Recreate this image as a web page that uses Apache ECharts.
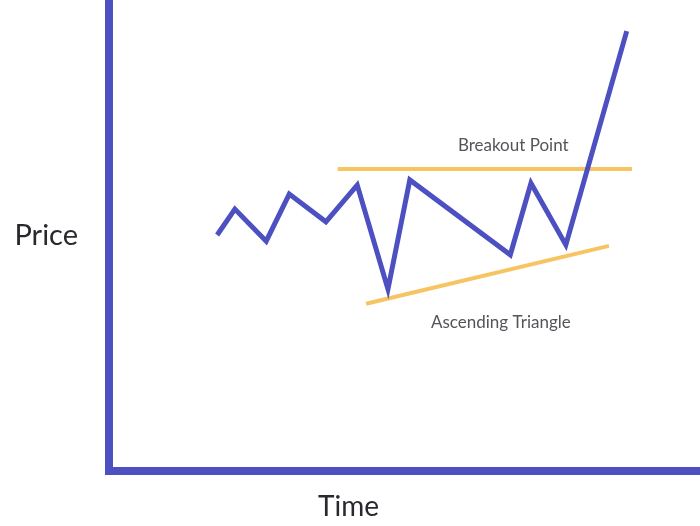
<!DOCTYPE html>
<html>
<head>
<meta charset="utf-8">
<script src="https://cdn.jsdelivr.net/npm/echarts@6/dist/echarts.min.js"></script>
<style>
  html, body { margin: 0; padding: 0; background: #fff; }
  #chart { width: 700px; height: 526px; }
</style>
</head>
<body>
<div id="chart"></div>
<script>
// price path (time, price) on a 0-100 scale
var priceTime = [18.3, 21.3, 26.6, 30.5, 36.7, 42.0, 47.2, 50.9, 67.9, 71.4, 77.3, 87.6];
var priceValue = [50.1, 55.6, 48.8, 58.8, 52.9, 60.7, 38.6, 61.8, 45.9, 61.1, 48.0, 93.4];

// resistance (breakout level) and rising support
var resistanceTime = [38.7, 88.5];
var resistanceValue = [64.1, 64.1];
var supportTime = [43.5, 84.6];
var supportValue = [35.5, 47.8];

// annotations
var noteText = ['Breakout Point', 'Ascending Triangle'];
var noteTime = [68.4, 66.3];
var noteValue = [69.0, 31.6];

var blue = '#4c50c1';
var orange = '#f7c462';
var textColor = '#28282f';

function pairs(xs, ys) {
  return xs.map(function (x, i) { return [x, ys[i]]; });
}

var chart = echarts.init(document.getElementById('chart'));
chart.setOption({
  animation: false,
  grid: {
    left: 109,
    right: 0,
    top: 0,
    bottom: 55,
    outerBoundsMode: 'none'
  },
  xAxis: {
    type: 'value',
    min: 0,
    max: 100,
    name: 'Time',
    nameLocation: 'middle',
    nameGap: 22,
    nameTextStyle: {
      fontFamily: 'Lato',
      fontSize: 28,
      color: textColor,
      padding: [0, 112, 0, 0]
    },
    axisLine: { show: true, lineStyle: { color: blue, width: 8, cap: 'square' } },
    axisTick: { show: false },
    axisLabel: { show: false },
    splitLine: { show: false }
  },
  yAxis: {
    type: 'value',
    min: 0,
    max: 100,
    name: 'Price',
    nameLocation: 'middle',
    nameRotate: 0,
    nameGap: 31,
    nameTextStyle: {
      fontFamily: 'Lato',
      fontSize: 29,
      color: textColor,
      padding: [4, 0, 0, 0]
    },
    axisLine: { show: true, lineStyle: { color: blue, width: 8, cap: 'square' } },
    axisTick: { show: false },
    axisLabel: { show: false },
    splitLine: { show: false }
  },
  series: [
    {
      type: 'line',
      data: pairs(resistanceTime, resistanceValue),
      symbol: 'none',
      z: 2,
      lineStyle: { color: orange, width: 4 }
    },
    {
      type: 'line',
      data: pairs(supportTime, supportValue),
      symbol: 'none',
      z: 2,
      lineStyle: { color: orange, width: 4 }
    },
    {
      type: 'line',
      data: pairs(priceTime, priceValue),
      symbol: 'none',
      z: 3,
      lineStyle: { color: blue, width: 5, join: 'miter' }
    },
    {
      type: 'scatter',
      symbolSize: 0,
      data: noteTime.map(function (t, i) { return [t, noteValue[i], noteText[i]]; }),
      label: {
        show: true,
        position: 'inside',
        formatter: function (p) { return p.data[2]; },
        fontFamily: 'Lato',
        fontSize: 17,
        color: textColor
      },
      silent: true
    }
  ]
});
</script>
</body>
</html>
